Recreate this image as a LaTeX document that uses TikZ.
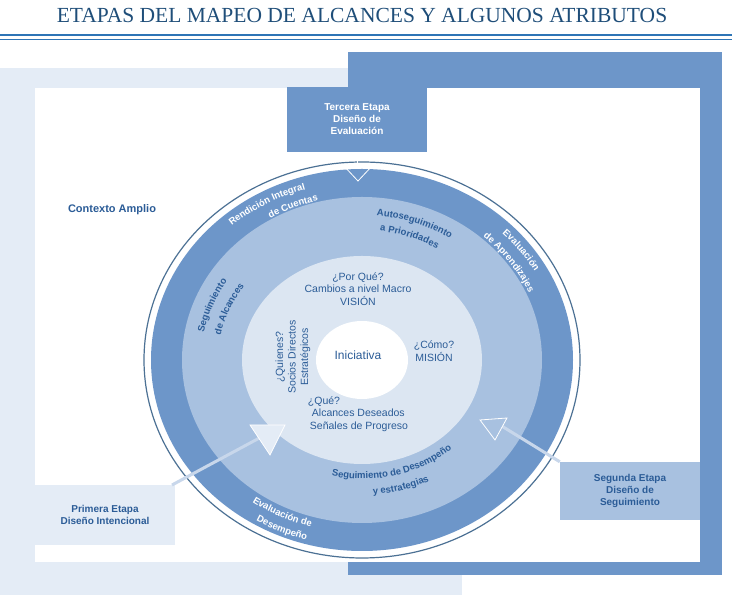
\documentclass[tikz,border=0pt]{standalone}
\usepackage{fontspec}
\setmainfont{Liberation Sans}
\newfontfamily\titlefont{Liberation Serif}
\usetikzlibrary{decorations.text,calc}
\definecolor{dk}{HTML}{6D96C9}
\definecolor{md}{HTML}{A8C1E0}
\definecolor{lt}{HTML}{DCE6F2}
\definecolor{bg}{HTML}{E4ECF6}
\definecolor{tx}{HTML}{2B5C97}
\definecolor{ttl}{HTML}{1F4E79}
\definecolor{ln}{HTML}{2E75B6}
\definecolor{arr}{HTML}{C8D7EB}
\tikzset{
 box/.style={draw=none,minimum width=140pt,align=center,font=\fontsize{10}{12}\selectfont\bfseries},
 ringw/.style={decorate,decoration={text along path,text align=center,text color=white,
   text={|\fontsize{9.5}{10}\selectfont\bfseries|#1}}},
 ringb/.style={decorate,decoration={text along path,text align=center,text color=tx,
   text={|\fontsize{9.5}{10}\selectfont\bfseries|#1}}},
 inner/.style={text=tx,align=center,font=\fontsize{10.5}{12.5}\selectfont},
 tri/.style={draw=white,line width=0.8pt},
 feed/.style={draw=arr,line width=3pt}
}
\begin{document}
\begin{tikzpicture}[x=1pt,y=1pt]
\useasboundingbox (0,0) rectangle (732,607);
% title
\node[font=\titlefont\fontsize{21.5}{22}\selectfont,text=ttl] (title) at (362,592) {ETAPAS DEL MAPEO DE ALCANCES Y ALGUNOS ATRIBUTOS};
\draw[ln,line width=2pt] (0,572) -- (732,572);
\draw[ln,line width=0.8pt] (0,567.5) -- (732,567.5);
% frames
\fill[bg] (0,12) rectangle (462,539);
\fill[dk] (348,32) rectangle (722,555);
\fill[white] (35,45) rectangle (700,519);
\coordinate (c) at (362,247);
% rings
\draw[ttl!80,line width=1.2pt] (c) ellipse [x radius=218,y radius=198];
\fill[dk] (c) ellipse [x radius=211,y radius=191];
\fill[md] (c) ellipse [x radius=180,y radius=163];
\fill[lt] (c) ellipse [x radius=120,y radius=104];
\fill[white] (c) ellipse [x radius=46,y radius=39];
% boxes
\node[box,fill=dk,text=white,minimum height=65pt] (t3) at (357,487.5) {Tercera Etapa\\Diseño de\\Evaluación};
\node[box,fill=bg,text=tx,minimum height=60pt] (t1) at (105,92) {Primera Etapa\\Diseño Intencional};
\node[box,fill=md,text=tx,minimum height=58pt] (t2) at (630,116) {Segunda Etapa\\Diseño de\\Seguimiento};
% connectors and triangles
\coordinate (tp) at (357,442);
\draw[white,line width=0.8pt] (t3.south) -- (tp);
\draw[tri] (343,442) -- (373,442) -- (358,426) -- cycle;
\coordinate (lp) at (265,172);
\draw[feed] (172,122) -- (lp);
\draw[tri,fill=bg] (250,182) -- (285,182) -- (270,152) -- cycle;
\coordinate (rp) at (500,182);
\draw[feed] (t2.north west) -- (rp);
\draw[tri,fill=md] (480,187) -- (507,189) -- (495,167) -- cycle;
% dark ring texts
\path[ringw={Rendición Integral}] ($(c)+(165:198 and 178)$) arc[start angle=165,end angle=75,x radius=198,y radius=178];
\path[ringw={de Cuentas}] ($(c)+(158:183 and 164)$) arc[start angle=158,end angle=68,x radius=183,y radius=164];
\path[ringw={Evaluación}] ($(c)+(81:199 and 178)$) arc[start angle=81,end angle=-9,x radius=199,y radius=178];
\path[ringw={de Aprendizajes}] ($(c)+(80:183 and 164)$) arc[start angle=80,end angle=-10,x radius=183,y radius=164];
\path[ringw={Evaluación de}] ($(c)+(204:192 and 173)$) arc[start angle=204,end angle=284,x radius=192,y radius=173];
\path[ringw={Desempeño}] ($(c)+(206:207 and 187)$) arc[start angle=206,end angle=286,x radius=207,y radius=187];
% middle ring texts
\path[ringb={Autoseguimiento}] ($(c)+(115:161 and 145)$) arc[start angle=115,end angle=25,x radius=161,y radius=145];
\path[ringb={a Prioridades}] ($(c)+(115:145 and 130)$) arc[start angle=115,end angle=25,x radius=145,y radius=130];
\path[ringb={Seguimiento}] ($(c)+(204:161 and 144)$) arc[start angle=204,end angle=114,x radius=161,y radius=144];
\path[ringb={de Alcances}] ($(c)+(203:144 and 128)$) arc[start angle=203,end angle=113,x radius=144,y radius=128];
\path[ringb={Seguimiento de Desempeño}] ($(c)+(235:135 and 119)$) arc[start angle=235,end angle=335,x radius=135,y radius=119];
\path[ringb={y estrategias}] ($(c)+(241:152 and 135)$) arc[start angle=241,end angle=331,x radius=152,y radius=135];
% inner texts
\node[inner] (por) at (358,318) {¿Por Qué?\\Cambios a nivel Macro\\VISIÓN};
\node[inner] (como) at (434,256) {¿Cómo?\\MISIÓN};
\node[inner,font=\fontsize{12}{14}\selectfont] (ini) at (358,252) {Iniciativa};
\node[inner,align=left] (que) at (358,193) {¿Qué?\\\hspace{4pt}Alcances Deseados\\\hspace{2pt}Señales de Progreso};
\node[inner,rotate=90] (qui) at (293,250) {¿Quienes?\\Socios Directos\\Estratégicos};
\node[text=tx,font=\fontsize{11}{13}\selectfont\bfseries] (ctx) at (112,397) {Contexto Amplio};
\end{tikzpicture}
\end{document}
